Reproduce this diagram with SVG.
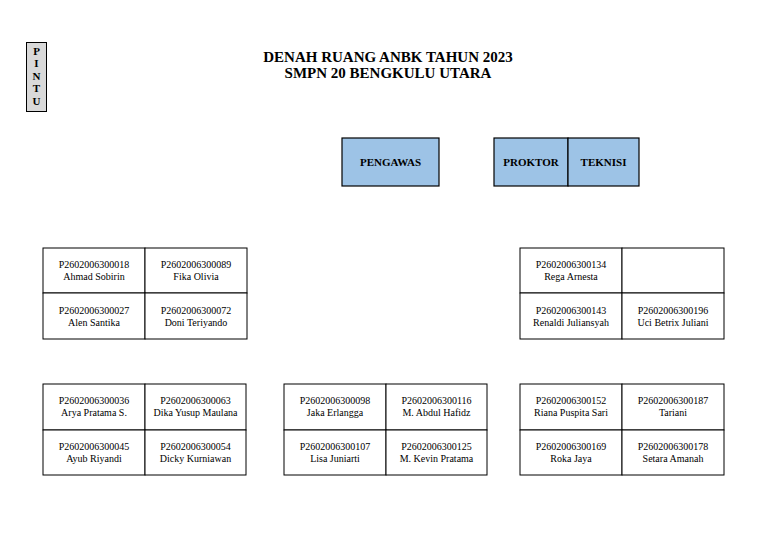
<svg xmlns="http://www.w3.org/2000/svg" width="768" height="543" viewBox="0 0 768 543">
<style>
text{font-family:"Liberation Serif",serif;fill:#000;text-anchor:middle}
.t{font-size:15px;font-weight:bold}
.b{font-size:11px;font-weight:bold}
.c{font-size:10px}
.cell{fill:#fff;stroke:#000;stroke-width:1}
.blue{fill:#9dc3e6;stroke:#000;stroke-width:1.2}
</style>
<rect width="768" height="543" fill="#fff"/>
<g id="pintu"><rect x="26.5" y="42.5" width="20" height="69" fill="#d9d9d9" stroke="#000"/>
<text class="b" x="36.5" y="55">P</text><text class="b" x="36.5" y="67">I</text><text class="b" x="36.5" y="80">N</text><text class="b" x="36.5" y="92">T</text><text class="b" x="36.5" y="105">U</text></g>
<g id="title"><text class="t" x="388" y="62">DENAH RUANG ANBK TAHUN 2023</text><text class="t" x="388" y="78">SMPN 20 BENGKULU UTARA</text></g>
<g id="pengawas"><rect class="blue" x="342" y="138" width="97" height="48"/><text class="b" x="390.5" y="166">PENGAWAS</text></g>
<g id="proktor"><rect class="blue" x="494" y="138" width="74" height="48"/><text class="b" x="531" y="166">PROKTOR</text></g>
<g id="teknisi"><rect class="blue" x="568" y="138" width="71" height="48"/><text class="b" x="603.5" y="166">TEKNISI</text></g>
<g id="g1">
<rect class="cell" x="43" y="248" width="102" height="45"/><rect class="cell" x="145" y="248" width="102" height="45"/>
<rect class="cell" x="43" y="293" width="102" height="46"/><rect class="cell" x="145" y="293" width="102" height="46"/>
<text class="c" x="94" y="268">P2602006300018</text><text class="c" x="94" y="280">Ahmad Sobirin</text>
<text class="c" x="196" y="268">P2602006300089</text><text class="c" x="196" y="280">Fika Olivia</text>
<text class="c" x="94" y="314">P2602006300027</text><text class="c" x="94" y="326">Alen Santika</text>
<text class="c" x="196" y="314">P2602006300072</text><text class="c" x="196" y="326">Doni Teriyando</text>
</g>
<g id="g2">
<rect class="cell" x="520" y="248" width="102" height="45"/><rect class="cell" x="622" y="248" width="102" height="45"/>
<rect class="cell" x="520" y="293" width="102" height="46"/><rect class="cell" x="622" y="293" width="102" height="46"/>
<text class="c" x="571" y="268">P2602006300134</text><text class="c" x="571" y="280">Rega Arnesta</text>
<text class="c" x="571" y="314">P2602006300143</text><text class="c" x="571" y="326">Renaldi Juliansyah</text>
<text class="c" x="673" y="314">P2602006300196</text><text class="c" x="673" y="326">Uci Betrix Juliani</text>
</g>
<g id="g3">
<rect class="cell" x="43" y="384" width="102" height="46"/><rect class="cell" x="145" y="384" width="101" height="46"/>
<rect class="cell" x="43" y="430" width="102" height="45"/><rect class="cell" x="145" y="430" width="101" height="45"/>
<text class="c" x="94" y="404">P2602006300036</text><text class="c" x="94" y="416">Arya Pratama S.</text>
<text class="c" x="195.5" y="404">P2602006300063</text><text class="c" x="195.5" y="416">Dika Yusup Maulana</text>
<text class="c" x="94" y="450">P2602006300045</text><text class="c" x="94" y="462">Ayub Riyandi</text>
<text class="c" x="195.5" y="450">P2602006300054</text><text class="c" x="195.5" y="462">Dicky Kurniawan</text>
</g>
<g id="g4">
<rect class="cell" x="284" y="384" width="102" height="46"/><rect class="cell" x="386" y="384" width="101" height="46"/>
<rect class="cell" x="284" y="430" width="102" height="45"/><rect class="cell" x="386" y="430" width="101" height="45"/>
<text class="c" x="335" y="404">P2602006300098</text><text class="c" x="335" y="416">Jaka Erlangga</text>
<text class="c" x="436.5" y="404">P2602006300116</text><text class="c" x="436.5" y="416">M. Abdul Hafidz</text>
<text class="c" x="335" y="450">P2602006300107</text><text class="c" x="335" y="462">Lisa Juniarti</text>
<text class="c" x="436.5" y="450">P2602006300125</text><text class="c" x="436.5" y="462">M. Kevin Pratama</text>
</g>
<g id="g5">
<rect class="cell" x="520" y="384" width="102" height="46"/><rect class="cell" x="622" y="384" width="102" height="46"/>
<rect class="cell" x="520" y="430" width="102" height="45"/><rect class="cell" x="622" y="430" width="102" height="45"/>
<text class="c" x="571" y="404">P2602006300152</text><text class="c" x="571" y="416">Riana Puspita Sari</text>
<text class="c" x="673" y="404">P2602006300187</text><text class="c" x="673" y="416">Tariani</text>
<text class="c" x="571" y="450">P2602006300169</text><text class="c" x="571" y="462">Roka Jaya</text>
<text class="c" x="673" y="450">P2602006300178</text><text class="c" x="673" y="462">Setara Amanah</text>
</g>
<g id="connectors"/>
</svg>
